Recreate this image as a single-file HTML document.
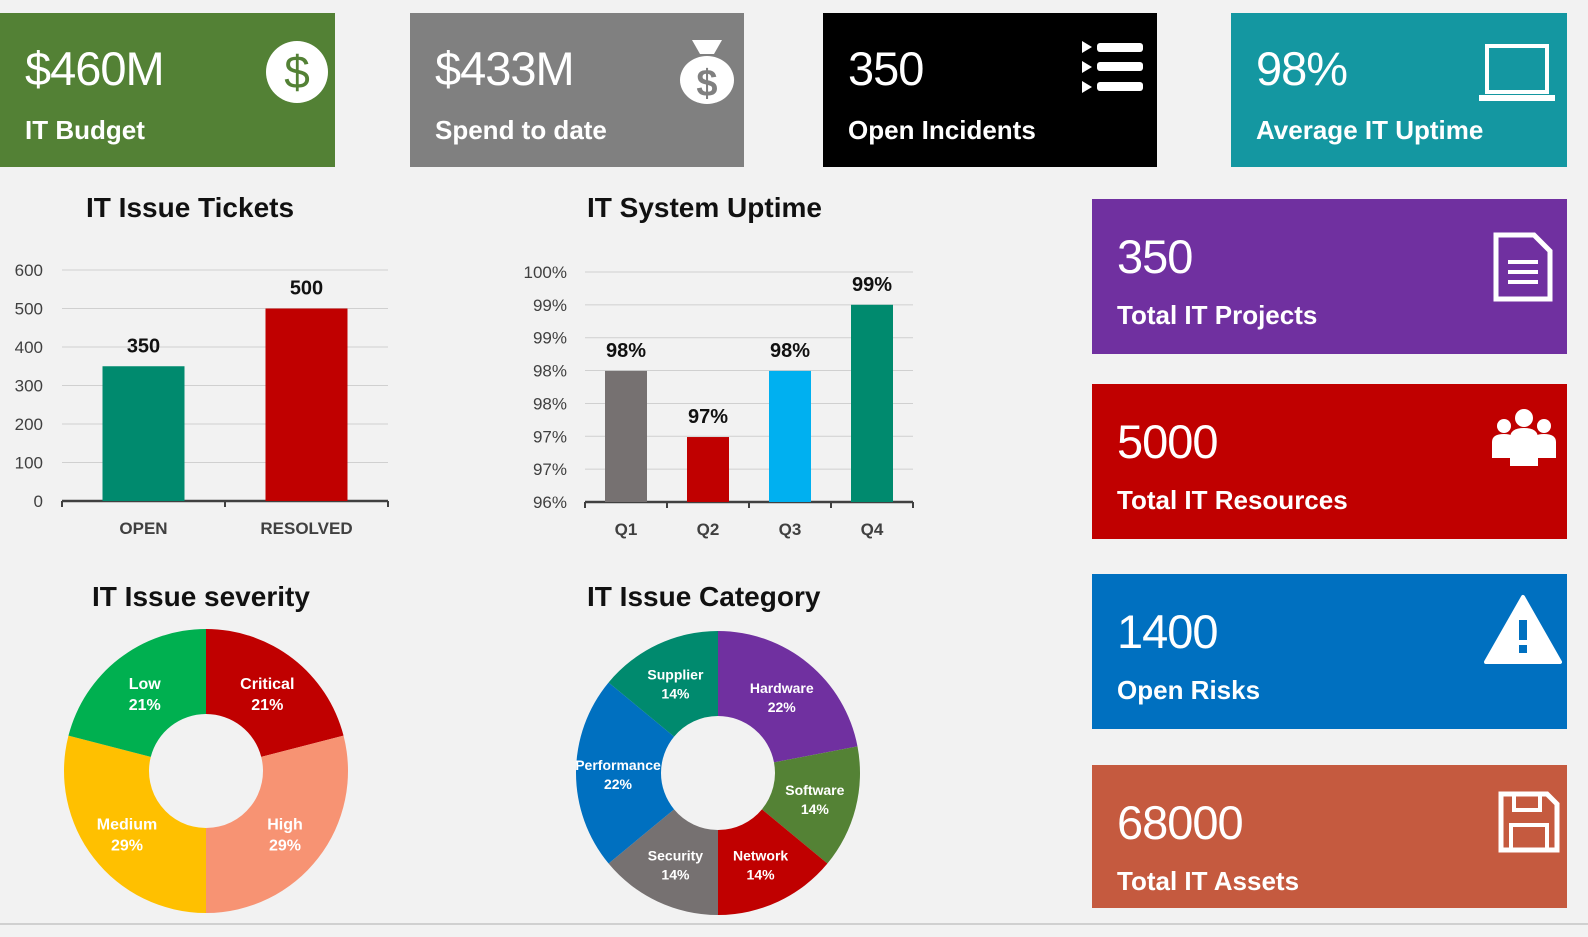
<!DOCTYPE html>
<html><head><meta charset="utf-8"><style>
body{margin:0;width:1588px;height:937px;background:#f2f2f2;font-family:"Liberation Sans",sans-serif;position:relative;overflow:hidden}
.card{position:absolute;color:#fff}
.card .num{position:absolute;left:25px;font-size:47px;letter-spacing:-1px}
.card .lbl{position:absolute;left:25px;font-size:26px;font-weight:bold}
.top .num{top:28px}.top .lbl{top:102px}
.side .num{top:30px}.side .lbl{top:101px}
.icon{position:absolute}
.title{position:absolute;font-size:28px;font-weight:bold;color:#111}
svg#charts{position:absolute;left:0;top:0}
</style></head><body>
<div class="card top" style="left:0;top:13px;width:335px;height:154px;background:#538135">
<div class="num">$460M</div><div class="lbl">IT Budget</div>
<svg class="icon" style="left:265px;top:27px" width="64" height="64"><circle cx="32" cy="32" r="31" fill="#fff"/><text x="32" y="48" text-anchor="middle" font-size="46" fill="#538135" font-family="Liberation Sans">$</text></svg></div>
<div class="card top" style="left:410px;top:13px;width:334px;height:154px;background:#808080">
<div class="num">$433M</div><div class="lbl">Spend to date</div>
<svg class="icon" style="left:268px;top:25px" width="58" height="66"><path d="M14 2h30l-8 14h-14z" fill="#fff"/><ellipse cx="29" cy="42" rx="27" ry="24" fill="#fff"/><text x="29" y="58" text-anchor="middle" font-size="38" font-weight="bold" fill="#808080" font-family="Liberation Sans">$</text></svg></div>
<div class="card top" style="left:823px;top:13px;width:334px;height:154px;background:#000">
<div class="num">350</div><div class="lbl">Open Incidents</div>
<svg class="icon" style="left:258px;top:28px" width="62" height="58"><g fill="#fff"><path d="M1 0l10 6-10 6z"/><path d="M1 20l10 6-10 6z"/><path d="M1 40l10 6-10 6z"/><rect x="16" y="2" width="46" height="9" rx="3"/><rect x="16" y="21" width="46" height="9" rx="3"/><rect x="16" y="41" width="46" height="9" rx="3"/></g></svg></div>
<div class="card top" style="left:1231px;top:13px;width:336px;height:154px;background:#1497a1">
<div class="num">98%</div><div class="lbl">Average IT Uptime</div>
<svg class="icon" style="left:246px;top:30px" width="80" height="62"><rect x="10" y="3" width="60" height="46" fill="none" stroke="#fff" stroke-width="4"/><path d="M2 52h76v6H2z" fill="#fff"/></svg></div>

<div class="card side" style="left:1092px;top:199px;width:475px;height:155px;background:#7030a0">
<div class="num">350</div><div class="lbl">Total IT Projects</div>
<svg class="icon" style="left:400px;top:33px" width="62" height="70"><path d="M4 3h38l16 16v48H4z" fill="none" stroke="#fff" stroke-width="5"/><g stroke="#fff" stroke-width="4"><path d="M16 30h30M16 40h30M16 50h30"/></g></svg></div>
<div class="card side" style="left:1092px;top:384px;width:475px;height:155px;background:#c00000">
<div class="num">5000</div><div class="lbl">Total IT Resources</div>
<svg class="icon" style="left:396px;top:24px" width="72" height="58"><g fill="#fff"><circle cx="36" cy="10" r="9"/><path d="M22 58V30q0-10 14-10t14 10v28z"/><circle cx="16" cy="18" r="7"/><path d="M4 50V34q0-8 12-8t10 8v16z"/><circle cx="56" cy="18" r="7"/><path d="M68 50V34q0-8-12-8t-10 8v16z"/></g></svg></div>
<div class="card side" style="left:1092px;top:574px;width:475px;height:155px;background:#0070c0">
<div class="num">1400</div><div class="lbl">Open Risks</div>
<svg class="icon" style="left:392px;top:20px" width="78" height="70"><path d="M39 3L76 68H2z" fill="#fff" stroke="#fff" stroke-linejoin="round" stroke-width="4"/><rect x="35" y="26" width="8" height="20" fill="#0070c0"/><rect x="35" y="51" width="8" height="8" fill="#0070c0"/></svg></div>
<div class="card side" style="left:1092px;top:765px;width:475px;height:143px;background:#c55a3f">
<div class="num">68000</div><div class="lbl">Total IT Assets</div>
<svg class="icon" style="left:406px;top:26px" width="62" height="62"><path d="M3 3h46l10 10v46H3z" fill="none" stroke="#fff" stroke-width="5"/><rect x="16" y="3" width="26" height="16" fill="none" stroke="#fff" stroke-width="4"/><rect x="13" y="34" width="36" height="25" fill="none" stroke="#fff" stroke-width="4"/></svg></div>

<div class="title" style="left:86px;top:192px">IT Issue Tickets</div>
<div class="title" style="left:587px;top:192px">IT System Uptime</div>
<div class="title" style="left:92px;top:581px">IT Issue severity</div>
<div class="title" style="left:587px;top:581px">IT Issue Category</div>
<div style="position:absolute;left:0;top:923px;width:1588px;height:2px;background:#d0d0d0"></div>

<svg id="charts" width="1588" height="937" font-family="Liberation Sans"></svg>
<script>
const ticketCats=["OPEN","RESOLVED"];
const ticketVals=[350,500];
const ticketColors=["#008a6e","#c00000"];
const ticketTicks=[0,100,200,300,400,500,600];
const uptimeCats=["Q1","Q2","Q3","Q4"];
const uptimeVals=[98.28,97.13,98.28,99.43];
const uptimeLabels=["98%","97%","98%","99%"];
const uptimeColors=["#767171","#c00000","#00b0f0","#008a6e"];
const uptimeTicks=[96,96.571,97.143,97.714,98.286,98.857,99.429,100];
const uptimeTickLabels=["96%","97%","97%","98%","98%","99%","99%","100%"];
const sevCats=["Critical","High","Medium","Low"];
const sevVals=[21,29,29,21];
const sevColors=["#c00000","#f79373","#ffc000","#00b050"];
const catCats=["Hardware","Software","Network","Security","Performance","Supplier"];
const catVals=[22,14,14,14,22,14];
const catColors=["#7030a0","#548235","#c00000","#767171","#0070c0","#008a6e"];

const S=document.getElementById('charts');const NS='http://www.w3.org/2000/svg';
function mk(t,a,txt){const e=document.createElementNS(NS,t);for(const k in a)e.setAttribute(k,a[k]);if(txt!==undefined)e.textContent=txt;S.appendChild(e);return e;}

function barChart(cats,vals,colors,ticks,tickLabels,labels,o){
  const y=v=>o.y0-(v-o.min)/(o.max-o.min)*(o.y0-o.y1);
  const band=(o.x1-o.x0)/cats.length;
  ticks.forEach((t,i)=>{
    const g=mk('line',{x1:o.x0,x2:o.x1,y1:y(t),y2:y(t),stroke:'#d0d0d0','stroke-width':1});
    
    const tl=mk('text',{x:o.x0-o.tickGap,y:y(t)+6,'text-anchor':'end','font-size':17,fill:'#404040'},tickLabels[i]);
    
  });
  const ax=mk('line',{x1:o.x0,x2:o.x1,y1:o.y0,y2:o.y0,stroke:'#404040','stroke-width':2.5});
  
  for(let i=0;i<=cats.length;i++){const tk=mk('line',{x1:o.x0+i*band,x2:o.x0+i*band,y1:o.y0,y2:o.y0+6,stroke:'#404040','stroke-width':2});}
  cats.forEach((c,i)=>{
    const cx=o.x0+band*(i+.5);
    const r=mk('rect',{x:cx-o.bw/2,y:y(vals[i]),width:o.bw,height:o.y0-y(vals[i]),fill:colors[i]});
    
    const vl=mk('text',{x:cx,y:y(vals[i])-14,'text-anchor':'middle','font-size':20,'font-weight':'bold',fill:'#111'},labels[i]);
    
    const cl=mk('text',{x:cx,y:o.y0+33,'text-anchor':'middle','font-size':17,'font-weight':'bold',fill:'#404040'},c);
    
  });
}
barChart(ticketCats,ticketVals,ticketColors,ticketTicks,ticketTicks.map(String),ticketVals.map(String),
  {id:'tickets',x0:62,x1:388,y0:501,y1:270,min:0,max:600,bw:82,tickGap:19});
barChart(uptimeCats,uptimeVals,uptimeColors,uptimeTicks,uptimeTickLabels,uptimeLabels,
  {id:'uptime',x0:585,x1:913,y0:502,y1:272,min:96,max:100,bw:42,tickGap:18});

function donut(cats,vals,colors,o){
  const tot=vals.reduce((a,b)=>a+b,0);let a0=0;
  const pt=(r,a)=>[o.cx+r*Math.sin(a),o.cy-r*Math.cos(a)];
  cats.forEach((c,i)=>{
    const a1=a0+vals[i]/tot*2*Math.PI;const lg=(a1-a0)>Math.PI?1:0;
    const p1=pt(o.R,a0),p2=pt(o.R,a1),p3=pt(o.r,a1),p4=pt(o.r,a0);
    const p=mk('path',{d:`M${p1}A${o.R},${o.R} 0 ${lg} 1 ${p2}L${p3}A${o.r},${o.r} 0 ${lg} 0 ${p4}Z`,fill:colors[i]});
    
    const am=(a0+a1)/2;const lp=pt(o.lr,am);
    const t1=mk('text',{x:lp[0],y:lp[1]-3,'text-anchor':'middle','font-size':o.fs,'font-weight':'bold',fill:'#fff'},c);
    
    const t2=mk('text',{x:lp[0],y:lp[1]+o.fs+2,'text-anchor':'middle','font-size':o.fs,'font-weight':'bold',fill:'#fff'},vals[i]+'%');
    
    a0=a1;
  });
}
donut(sevCats,sevVals,sevColors,{id:'severity',cx:206,cy:771,R:142,r:57,lr:100,fs:16});
donut(catCats,catVals,catColors,{id:'category',cx:718,cy:773,R:142,r:57,lr:100,fs:14});
</script>
</body></html>
